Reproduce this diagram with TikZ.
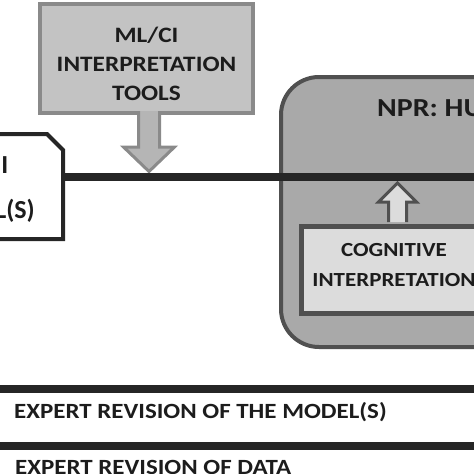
\documentclass[tikz,border=0pt]{standalone}
\usepackage{fontspec}
\setmainfont{Carlito}[FakeStretch=1.15]
\newfontfamily\plainfont{Carlito}
\definecolor{ink}{HTML}{1C1C1C}
\definecolor{toolfill}{HTML}{C3C3C3}
\definecolor{toolline}{HTML}{8A8A8A}
\definecolor{arrfill}{HTML}{B5B5B5}
\definecolor{nprfill}{HTML}{A9A9A9}
\definecolor{nprline}{HTML}{505050}
\definecolor{cogfill}{HTML}{DCDCDC}
\definecolor{heavy}{HTML}{262626}
\tikzset{
  lbl/.style={text=ink, font=\bfseries\fontsize{20}{30}\selectfont, inner sep=0pt, align=center},
  toolbox/.style={rectangle, draw=toolline, fill=toolfill, line width=4pt, inner sep=0pt},
  downarr/.style={draw=toolline, fill=arrfill, line width=3pt, line join=miter},
  leftbox/.style={draw=heavy, fill=white, line width=4pt, line join=miter},
  lefttext/.style={text=ink, font=\plainfont\bfseries\fontsize{26}{32}\selectfont, inner sep=0pt, anchor=base east},
  nprbox/.style={rectangle, draw=nprline, fill=nprfill, line width=4pt, rounded corners=38pt, inner sep=0pt},
  cogbox/.style={rectangle, draw=nprline, fill=cogfill, line width=4.5pt, inner sep=0pt},
  uparr/.style={draw=nprline, fill=cogfill, line width=3pt, line join=miter},
  mainline/.style={draw=heavy, line width=8pt},
  revline/.style={draw=heavy, line width=8pt},
  revtext/.style={text=ink, font=\bfseries\fontsize{21.7}{27}\selectfont, inner sep=0pt, anchor=base west},
}
\begin{document}
\begin{tikzpicture}[x=1pt,y=-1pt]
\useasboundingbox (0,0) rectangle (474,474);
\clip (0,0) rectangle (474,474);
% tools box
\node[toolbox, minimum width=213pt, minimum height=109pt] (tools) at (146.5,58.5) {};
\node[lbl, font=\bfseries\fontsize{22}{29}\selectfont] (toolstext) at (146.5,64) {ML/CI\\INTERPRETATION\\TOOLS};
% down block arrow
\coordinate (dtip) at (149,171.5);
\draw[downarr] (138.5,111) -- (138.5,147) -- (123.5,147) -- (dtip) -- (174.5,147) -- (159.5,147) -- (159.5,111);
% left box
\draw[leftbox] (-10,134) -- (47,134) -- (63,150) -- (63,239) -- (-10,239);
\coordinate (lbE) at (63,177);
\node[lefttext] (lbt1) at (8.5,173) {I};
\node[lefttext] (lbt2) at (35,218) {L(S)};
% NPR box
\node[nprbox, minimum width=290pt, minimum height=270pt, anchor=north west] (npr) at (279,75) {};
\node[text=ink, font=\bfseries\fontsize{26}{30}\selectfont, inner sep=0pt, anchor=base west] (nprt) at (377,116.5) {NPR: HU};
% cognitive box
\node[cogbox, minimum width=260pt, minimum height=87pt, anchor=north west] (cog) at (299,224) {};
\node[lbl] (cogtext) at (394,265) {COGNITIVE\\INTERPRETATION};
% up block arrow
\coordinate (utip) at (397.5,183);
\draw[uparr] (388.5,222) -- (388.5,202) -- (378.5,202) -- (utip) -- (416.5,202) -- (406.5,202) -- (406.5,222);
% main line
\coordinate (mainE) at (480,177);
\draw[mainline] (lbE) -- (mainE);
% revision lines
\coordinate (r1W) at (-5,389);
\coordinate (r1E) at (480,389);
\coordinate (r2W) at (-5,446);
\coordinate (r2E) at (480,446);
\draw[revline] (r1W) -- (r1E);
\draw[revline] (r2W) -- (r2E);
\node[revtext] (rev1) at (14,418) {EXPERT REVISION OF THE MODEL(S)};
\node[revtext] (rev2) at (15,474.5) {EXPERT REVISION OF DATA};
\end{tikzpicture}
\end{document}
